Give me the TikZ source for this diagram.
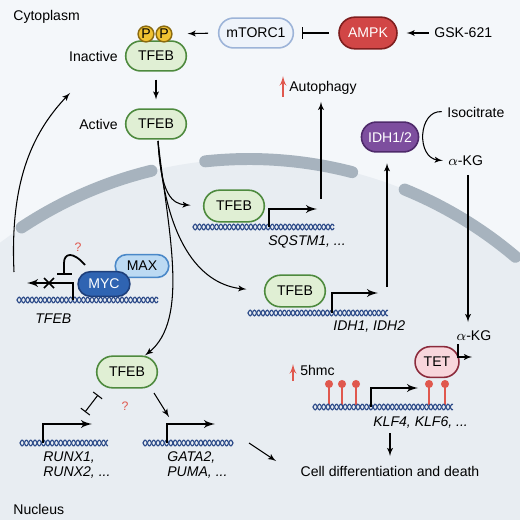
\documentclass[tikz,border=0pt]{standalone}
\usepackage{fontspec}
\setmainfont{Liberation Sans}
\usetikzlibrary{arrows,shapes.misc,positioning}

\definecolor{cytofill}{HTML}{F4F7FA}
\definecolor{nucfill}{HTML}{E8EDF2}
\definecolor{membrane}{HTML}{A7B3BE}
\definecolor{tfebfill}{HTML}{E0EFD4}
\definecolor{tfebline}{HTML}{4E8A3E}
\definecolor{mtorfill}{HTML}{EEF3FA}
\definecolor{mtorline}{HTML}{9DB4D8}
\definecolor{ampkfill}{HTML}{D14646}
\definecolor{ampkline}{HTML}{7E1E1E}
\definecolor{idhfill}{HTML}{7D4E9E}
\definecolor{idhline}{HTML}{4E2A6A}
\definecolor{tetfill}{HTML}{F8D6DC}
\definecolor{tetline}{HTML}{8B2B3C}
\definecolor{maxfill}{HTML}{BCDAF3}
\definecolor{maxline}{HTML}{4A88C8}
\definecolor{mycfill}{HTML}{2F64B2}
\definecolor{mycline}{HTML}{1E3F7A}
\definecolor{pyellow}{HTML}{F0C232}
\definecolor{pborder}{HTML}{8A6A10}
\definecolor{dnablue}{HTML}{2E4C8A}
\definecolor{upred}{HTML}{E0584E}

\tikzset{
  >=latex',
  pill/.style={rounded rectangle, draw, line width=0.9pt, inner xsep=3pt, inner ysep=1pt},
  tfeb/.style={pill, fill=tfebfill, draw=tfebline, minimum width=40.5pt, minimum height=17pt},
  mtorbox/.style={pill, fill=mtorfill, draw=mtorline, minimum width=48.5pt, minimum height=17pt},
  ampkbox/.style={pill, fill=ampkfill, draw=ampkline, text=white, minimum width=39pt, minimum height=18pt},
  idhbox/.style={pill, fill=idhfill, draw=idhline, text=white, minimum width=38.5pt, minimum height=17pt},
  tetbox/.style={pill, fill=tetfill, draw=tetline, minimum width=31pt, minimum height=17.5pt},
  maxbox/.style={pill, fill=maxfill, draw=maxline, minimum width=36.5pt, minimum height=13pt, text depth=0pt},
  mycbox/.style={pill, fill=mycfill, draw=mycline, text=white, minimum width=35.5pt, minimum height=14pt},
  phos/.style={circle, fill=pyellow, draw=pborder, line width=0.8pt, inner sep=0pt, minimum size=9pt},
  lbl/.style={inner sep=0pt},
  gene/.style={lbl, font=\fontsize{8}{8.6}\selectfont\itshape, align=left},
  query/.style={lbl, text=upred, font=\fontsize{7}{8}\selectfont},
  link/.style={->, line width=0.6pt},
  promo/.style={->, line width=1.2pt},
  dna/.style={draw=dnablue, line width=0.65pt},
  membranebar/.style={draw=membrane, line width=6.8pt, line cap=round},
  uparrow/.style={->, draw=upred, line width=0.9pt},
  lolly/.style={draw=upred, line width=1.1pt}
}

% two strands of a DNA double helix
\newcommand{\dnahelix}[3]{%
  \draw[dna] plot[domain=#1:#2, samples=130, smooth] (\x,{#3+2.9*sin(42*(\x-#1))});
  \draw[dna] plot[domain=#1:#2, samples=130, smooth] (\x,{#3-2.9*sin(42*(\x-#1))});}

\begin{document}
\begin{tikzpicture}[x=0.02cm, y=-0.02cm, font=\fontsize{8}{9.6}\selectfont]
    \useasboundingbox (0,0) rectangle (520,520);
    \fill[cytofill] (0,0) rectangle (520,520);
    % nucleus and its envelope
    \begin{scope}
      \clip (0,0) rectangle (520,520);
      \fill[nucfill] plot[domain=-180:0, samples=120] ({249+412*cos(\x)},{571+412*sin(\x)}) -- cycle;
    \end{scope}
    \draw[membranebar] plot[domain=-123.5:-103.7, samples=30, smooth] ({249+412*cos(\x)},{571+412*sin(\x)});
    \draw[membranebar] plot[domain=-96.1:-75.5, samples=30, smooth] ({249+412*cos(\x)},{571+412*sin(\x)});
    \draw[membranebar] plot[domain=-67.8:-49.7, samples=30, smooth] ({249+412*cos(\x)},{571+412*sin(\x)});

    \node[lbl, anchor=west] (cyto) at (13,17) {Cytoplasm};
    \node[lbl, anchor=west] (nucl) at (13,509) {Nucleus};

    % cytoplasm
    \node[tfeb] (inact) at (156,56) {TFEB};
    \node[phos] (p1) at (146,34) {P};
    \node[phos] (p2) at (164,34) {P};
    \node[lbl, anchor=east] (inactlbl) at (118,56) {Inactive};
    \node[tfeb] (act) at (156,124) {TFEB};
    \node[lbl, anchor=east] (actlbl) at (118,124) {Active};
    \node[mtorbox] (mtor) at (256,33) {mTORC1};
    \node[ampkbox] (ampk) at (368,33) {AMPK};
    \node[lbl, anchor=west] (gsk) at (434,33) {GSK-621};
    \node[lbl, anchor=west] (auto) at (289,88) {Autophagy};
    \draw[uparrow] (283,97) -- (283,76);
    \node[idhbox] (idh) at (390,137) {IDH1/2};
    \node[lbl, anchor=west] (iso) at (447,112) {Isocitrate};
    \node[lbl, anchor=west] (akg) at (448,161) {$\alpha$-KG};

    \draw[link, shorten <=4.5pt, shorten >=5pt] (inact.south) -- (act.north);
    \draw[link, shorten <=5.5pt, shorten >=8.5pt] (mtor.west) -- (p2.east);
    \draw[line width=0.6pt, -|, shorten <=5.5pt, shorten >=4.5pt] (ampk.west) -- (mtor.east);
    \draw[link, shorten <=3pt, shorten >=5pt] (gsk.west) -- (ampk.east);
    \draw[link, shorten <=3pt, shorten >=3pt] (iso.west) .. controls (418,110) and (416,158) .. (akg.west);

    % TFEB target genes
    \node[tfeb, minimum height=18pt] (sqT) at (234,206) {TFEB};
    \dnahelix{193}{334}{227}
    \draw[promo] (269,227) -- (269,209) -- (317,209);
    \node[gene, anchor=west] (sqgene) at (268,242) {SQSTM1, ...};

    \node[tfeb, minimum height=18pt] (idT) at (295,291) {TFEB};
    \dnahelix{248}{388}{313}
    \draw[promo] (332,313) -- (332,293) -- (378,293);
    \node[gene, anchor=west] (idhgene) at (333,326) {IDH1, IDH2};

    \coordinate (sqout) at (321,199);
    \draw[link, shorten >=4pt] (sqout) -- (sqout |- auto.south);
    \coordinate (idout) at (387,287);
    \draw[link, shorten >=6pt] (idout) -- (idout |- idh.south);

    % MYC/MAX at the TFEB promoter
    \node[maxbox] (max) at (142,266) {MAX};
    \node[mycbox] (myc) at (104,284) {MYC};
    \dnahelix{17}{158}{300}
    \draw[promo] (73,300) -- (73,283) -- (27,283);
    \draw[line width=1pt] (44,278) -- (54,288) (44,288) -- (54,278);
    \draw[line width=1pt] (57,274) -- (72,274);
    \draw[line width=1pt] (64,274) -- (64,263) .. controls (64,253) and (73,251) .. (85,265);
    \node[query] (q1) at (78,247) {?};
    \node[gene, anchor=west] (tfebgene) at (35,319) {TFEB};
    \coordinate (mycup) at (14,272);
    \coordinate (cyttip) at (70,93);
    \draw[link] (mycup) .. controls (10,185) and (30,135) .. (cyttip);

    % nuclear TFEB
    \node[tfeb, minimum height=18pt] (nucT) at (127,372) {TFEB};
    \node[query] (q2) at (125,406) {?};
    \coordinate (inhA) at (98,395);
    \coordinate (inhB) at (85,412);
    \draw[line width=0.6pt, |-|] (inhA) -- (inhB);
    \coordinate (actA) at (154,393);
    \coordinate (actB) at (169,417);
    \draw[link] (actA) -- (actB);

    % TFEB leaves for the nucleus
    \coordinate (split) at (158,141);
    \draw[link] (split) .. controls (168,230) and (190,320) .. ([xshift=2pt]nucT.north east);
    \draw[link, shorten >=7pt] (split) .. controls (161,195) and (172,204) .. (sqT.west);
    \draw[link, shorten >=10pt] (split) .. controls (166,250) and (205,285) .. (idT.west);

    \dnahelix{20}{108}{443}
    \draw[promo] (43,443) -- (43,424) -- (92,424);
    \node[gene, anchor=west] (runx) at (43,465) {RUNX1,\\RUNX2, ...};
    \dnahelix{143}{233}{443}
    \draw[promo] (167,443) -- (167,424) -- (215,424);
    \node[gene, anchor=west] (gata) at (167,465) {GATA2,\\PUMA, ...};

    % alpha-KG and TET
    \coordinate (kgtop) at (468,175);
    \coordinate (kgbot) at (468,322);
    \draw[link] (kgtop) -- (kgbot);
    \node[lbl] (akgb) at (474,336) {$\alpha$-KG};
    \node[tetbox] (tet) at (437,362) {TET};
    \coordinate (tetkg) at (458,344);
    \coordinate (tetout) at (472,357);
    \draw[link] (tetkg) |- (tetout);

    \foreach \lx in {329,342,356,429,445} {
      \draw[lolly] (\lx,405) -- (\lx,384);
      \fill[upred] (\lx,384) circle (2.3pt);
    }
    \dnahelix{313}{453}{407}
    \draw[promo] (371,407) -- (371,388) -- (418,388);
    \draw[uparrow] (293,381) -- (293,364);
    \node[lbl, anchor=west] (hmc) at (300,370) {5hmc};
    \node[gene, anchor=west] (klf) at (373,422) {KLF4, KLF6, ...};

    \node[lbl] (cell) at (390,471) {Cell differentiation and death};
    \coordinate (klfout) at (390,433);
    \coordinate (cellin) at (390,456);
    \draw[link] (klfout) -- (cellin);
    \coordinate (gataout) at (249,443);
    \coordinate (cellleft) at (276,461);
    \draw[link] (gataout) -- (cellleft);
\end{tikzpicture}
\end{document}
